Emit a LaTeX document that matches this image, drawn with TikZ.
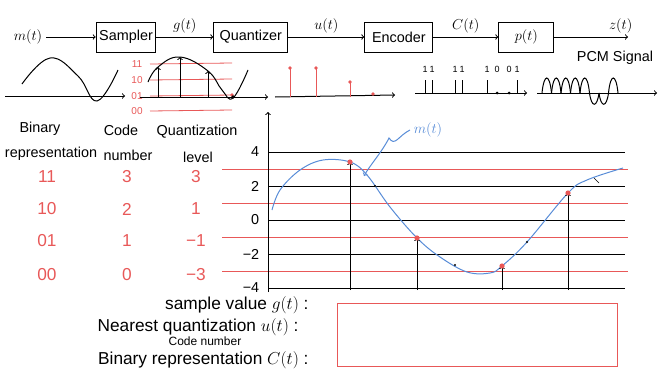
\documentclass[tikz,border=0pt]{standalone}
\usepackage{fontspec}
\setmainfont{Liberation Sans}
\usetikzlibrary{arrows, positioning}

\definecolor{penred}{RGB}{232,88,88}
\definecolor{penblue}{RGB}{88,140,215}

\begin{document}
\begin{tikzpicture}[
            > = to, % open arrow head
            x = 1pt, y = -1pt, % picture coordinates, y runs down
            node distance = 57pt, % gap between blocks
            line width = 1pt % pen stroke
        ]

        \tikzstyle{block}=[
            draw = black,
            line width = 1pt,
            minimum height = 30pt,
            inner sep = 3pt,
            font = \Large
        ]
        \tikzstyle{lbl}=[font = \Large]
        \tikzstyle{redlbl}=[text = penred, font = \LARGE]
        \tikzstyle{level}=[penred, line width = 0.8pt]
        \tikzstyle{grid}=[black, line width = 0.9pt]
        \tikzstyle{answer}=[font = \LARGE, anchor = east, inner sep = 1pt]

        \useasboundingbox (0,0) rectangle (660,380);

	% chain of blocks
	\node[lbl] (m) at (28,37) {$m(t)$};
	\node[block] (sampler) at (126,37) {Sampler};
	\node[block, minimum width = 74pt] (quant) [right=57pt of sampler] {Quantizer};
	\node[block, minimum width = 68pt] (enc) [right=76pt of quant] {Encoder};
	\node[block, minimum width = 55pt] (pulse) [right=65pt of enc] {$p(t)$};
	\coordinate (out) at (628,37);

        \draw[->] (m) -- (sampler);
        \draw[->] (sampler) -- node[lbl, above] {$g(t)$} (quant);
        \draw[->] (quant) -- node[lbl, above] {$u(t)$} (enc);
        \draw[->] (enc) -- node[lbl, above] {$C(t)$} (pulse);
        \draw[->] (pulse) -- node[lbl, above, pos=0.9] {$z(t)$} (out);

	% message signal
	\draw[->] (5,96) -- (125,96);
	\draw plot[smooth, tension=0.7] coordinates {(22,84) (50,58) (78,76) (97,101) (118,70)};

	% sampling and levels
	\foreach \code/\y in {11/64, 10/80, 01/96, 00/111} {
	    \node[text = penred, font = \normalsize] at (137,\y) {\code};
	    \draw[level] (150,\y) -- (232,\y-1);
	}
	\fill[penred] (232,95) circle (1.8pt);
	\draw[->] (140,97) -- (268,97);
	\draw plot[smooth, tension=0.7] coordinates {(148,82) (158,67) (180,57) (208,71) (222,90) (233,98) (248,70)};
	\draw[->] (158,97) -- (158,67);
	\draw[->] (180,97) -- (180,57);
	\draw[->] (208,97) -- (208,71);
	\fill (233,97) circle (1.8pt);

	% quantized samples
	\draw[->] (275,97) -- (395,95);
	\foreach \x/\y in {290/68, 316/68, 350/82} {
	    \draw[penred] (\x,97) -- (\x,\y);
	    \fill[penred] (\x,\y) circle (1.8pt);
	}
	\fill[penred] (373,94) circle (1.8pt);

	% code bits
	\draw[->] (415,93) -- (527,93);
	\foreach \x/\b in {425/1, 432/1, 455/1, 462/1, 487/1, 497/0, 509/0, 517/1} {
	    \node[font = \small] at (\x,69) {\b};
	    \ifnum\b=1 \draw (\x,93) -- (\x,80); \else \fill (\x,93) circle (1.5pt); \fi
	}

	% PCM signal
	\node[lbl] (pcm) at (615,58) {PCM Signal};
	\draw[->] (537,93) -- (657,93);
	\foreach \b [count=\i from 0] in {1,1,1,1,1,0,0,1} {
	    \pgfmathsetmacro{\xa}{542+9.5*\i}
	    \pgfmathsetmacro{\h}{\b==1 ? -20 : 15}
	    \draw (\xa,93) .. controls ({\xa+2},{93+\h}) and ({\xa+7.5},{93+\h}) .. ({\xa+9.5},93);
	}

	% table of levels
	\node[lbl] (bin) at (40,129) {Binary};
	\node[lbl] (rep) at (51,154) {representation};
	\node[lbl] (cd) at (121,130) {Code};
	\node[lbl] (num) at (128,155) {number};
	\node[lbl] (qz) at (197,132) {Quantization};
	\node[lbl] (lev) at (198,157) {level};
	\foreach \bits/\code/\lev/\y in {11/3/3/177, 10/2/1/209, 01/1/−1/241, 00/0/−3/275} {
	    \node[redlbl] at (47,\y) {\bits};
	    \node[redlbl] at (127,\y) {\code};
	    \node[redlbl] at (196,\y) {\lev};
	}

	% level chart
	\foreach \v in {3,1,-1,-3}
	    \draw[level] (222,{220-17*\v}) -- (628,{220-17*\v});
	\foreach \v/\t in {4/4, 2/2, 0/0, -2/−2, -4/−4} {
	    \draw[grid] (268,{220-17*\v}) -- (625,{220-17*\v});
	    \node[lbl, anchor=east] at (263,{220-17*\v}) {\t};
	}
	\draw[->] (268,292) -- (268,112);

	\draw[penblue] plot[smooth, tension=0.6] coordinates {(272,210) (280,190) (300,170) (323,160) (350,162) (367,175) (390,207) (417,238) (440,257) (467,272) (490,273) (502,266) (527,242) (568,193) (587,180) (623,168)};
	\foreach \x/\y in {375/186, 455/265, 527/242}
	    \fill (\x,\y) circle (1.2pt);
	\draw[line width = 0.6pt] (594,178) -- (599,183);

	\foreach \x/\y [count=\k] in {350/162, 417/238, 502/266, 568/193} {
	    \coordinate (s\k) at (\x,\y);
	    \coordinate (b\k) at (\x,290);
	    \draw[->] (b\k) -- (s\k);
	    \fill[penred] (s\k) circle (2.6pt);
	}

	\node[text = penblue, font = \Large] (mlabel) at (428,130) {$m(t)$};
	\draw[->, penblue] (mlabel.west) .. controls (398,136) and (395,147) .. (389,138) .. controls (382,152) and (370,165) .. (364,176);

	% answer lines
	\node[answer] (gval) at (310,305) {sample value $g(t)$ :};
	\node[answer] (uval) at (300,327) {Nearest quantization $u(t)$ :};
	\node[font = \large, inner sep = 1pt] (cnum) at (205,341) {Code number};
	\node[answer] (cval) at (310,360) {Binary representation $C(t)$ :};
	\draw[penred] (337,303) rectangle (617,366);

    \end{tikzpicture}
\end{document}
